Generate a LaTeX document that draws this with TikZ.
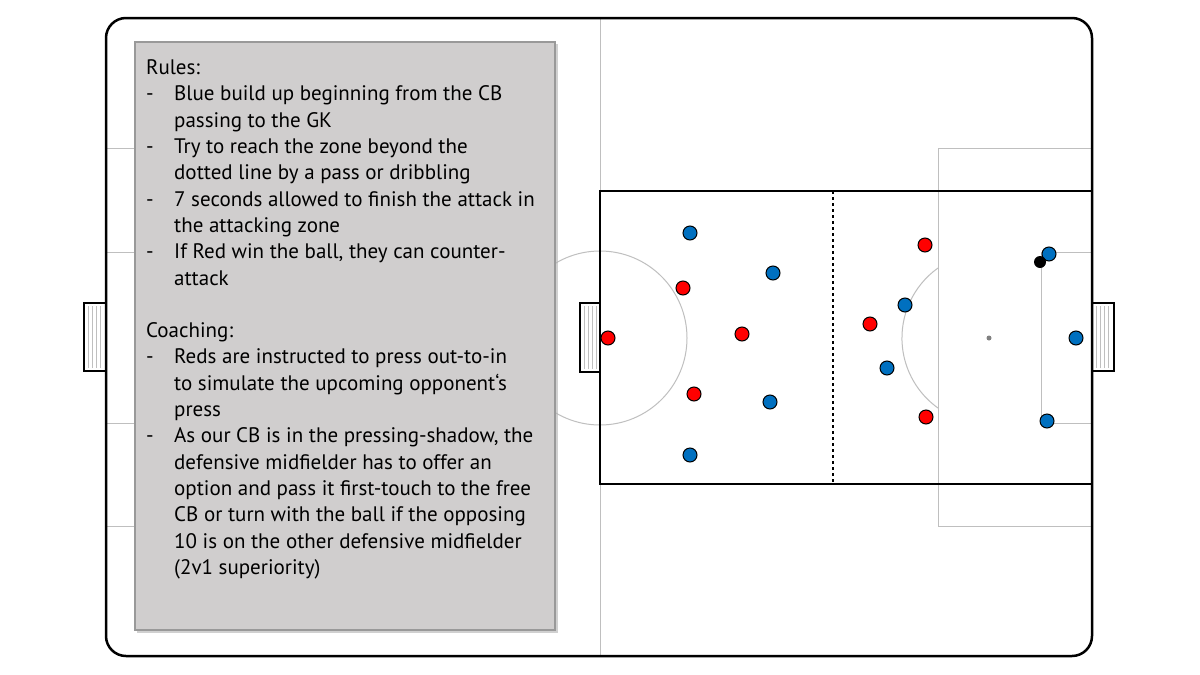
\documentclass[tikz,border=0pt]{standalone}
\usepackage{fontspec}
\setmainfont{PT Sans}
\definecolor{bl}{HTML}{0070C0}
\definecolor{rd}{HTML}{FF0000}
\definecolor{bx}{HTML}{D0CECE}
\definecolor{ln}{HTML}{BFBFBF}
\begin{document}
\begin{tikzpicture}[x=1pt,y=-1pt,
 fl/.style={draw=ln,line width=1pt},
 bp/.style={circle,draw=black,line width=1pt,fill=bl,minimum size=14pt,inner sep=0},
 rp/.style={circle,draw=black,line width=1pt,fill=rd,minimum size=14pt,inner sep=0},
 goal/.style={draw=black,line width=1.5pt,fill=white}]
\useasboundingbox (0,0) rectangle (1200,675);
\fill[white] (0,0) rectangle (1200,675);
% field lines
\draw[fl] (600,18) -- (600,656);
\draw[fl] (600,338) circle (87);
\draw[fl] (106,148) -- (135,148) (106,252) -- (135,252) (106,423) -- (135,423) (106,526) -- (135,526);
\draw[fl] (1092,148) -- (938,148) -- (938,526) -- (1092,526);
\draw[fl] (1092,252) -- (1041,252) -- (1041,423) -- (1092,423);
\draw[fl] (938,268) arc[start angle=234.5,end angle=125.5,radius=86];
\fill[gray] (989,338) circle (2.5);
% goals
\foreach \gx/\gw in {84/22,1092/22}{
 \draw[goal] (\gx,303) rectangle ++(\gw,68);
 \draw[ln,line width=0.4pt,step=4] (\gx+3,306) grid ++(\gw-6,62);
}
\draw[goal] (580,303) rectangle (600,372);
\draw[ln,line width=0.4pt,step=4] (583,306) grid (597,369);
% inner playing area
\draw[black,line width=1.5pt] (600,191) rectangle (1092,484);
\draw[black,line width=1.5pt,dashed] (833,191) -- (833,484);
% outer field
\draw[black,line width=2.5pt,rounded corners=20] (106,18) rectangle (1092,656);
% players
\foreach \i/\p in {b1/{690,233},b2/{773,273},b3/{770,402},b4/{690,455},b5/{905,305},b6/{887,368},b7/{1049,254},b8/{1076,338},b9/{1047,421}}
 \node[bp] (\i) at (\p) {};
\foreach \i/\p in {r1/{608,338},r2/{683,288},r3/{742,334},r4/{694,394},r5/{925,245},r6/{870,324},r7/{926,417}}
 \node[rp] (\i) at (\p) {};
\node[circle,fill=black,minimum size=12pt,inner sep=0] (ball) at (1040,262) {};
% text box
\fill[gray!60,opacity=0.6] (137,44) rectangle (558,633);
\draw[fill=bx,draw=gray!80,line width=1.5pt] (135,42) rectangle (555,630);
\node[anchor=north west,inner sep=0,font=\fontsize{21pt}{26.3pt}\selectfont] (txt) at (146,56) {%
\begin{tabular}{@{}p{28pt}@{}l@{}}
\multicolumn{2}{@{}l@{}}{Rules:}\\
-& Blue build up beginning from the CB\\
 & passing to the GK\\
-& Try to reach the zone beyond the\\
 & dotted line by a pass or dribbling\\
-& 7 seconds allowed to finish the attack in\\
 & the attacking zone\\
-& If Red win the ball, they can counter-\\
 & attack\\[26.3pt]
\multicolumn{2}{@{}l@{}}{Coaching:}\\
-& Reds are instructed to press out-to-in\\
 & to simulate the upcoming opponent‘s\\
 & press\\
-& As our CB is in the pressing-shadow, the\\
 & defensive midfielder has to offer an\\
 & option and pass it first-touch to the free\\
 & CB or turn with the ball if the opposing\\
 & 10 is on the other defensive midfielder\\
 & (2v1 superiority)
\end{tabular}};
\end{tikzpicture}
\end{document}
